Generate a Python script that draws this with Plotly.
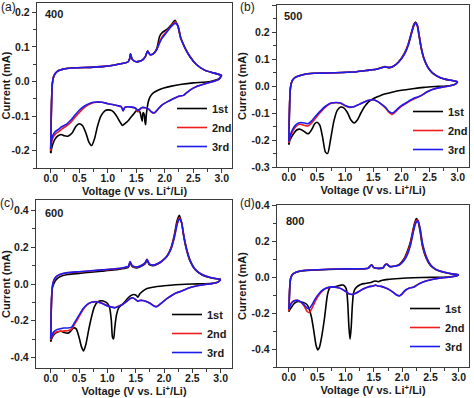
import plotly.graph_objects as go

# ---------------- data ----------------
CYCLES = ["1st", "2nd", "3rd"]
SAMPLES = ["400", "500", "600", "800"]
PANEL_LABELS = ["(a)", "(b)", "(c)", "(d)"]
X_TICKS = [0.0, 0.5, 1.0, 1.5, 2.0, 2.5, 3.0]
X_MINOR = [0.25, 0.75, 1.25, 1.75, 2.25, 2.75]
Y_TICKS_A = [-0.2, -0.1, 0.0, 0.1, 0.2]
Y_MINOR_A = [-0.25, -0.15, -0.05, 0.05, 0.15]
Y_TICKS_B = [-0.3, -0.2, -0.1, 0.0, 0.1, 0.2, 0.3]
Y_MINOR_B = [-0.25, -0.15, -0.05, 0.05, 0.15, 0.25]
Y_TICKS_C = [-0.4, -0.2, 0.0, 0.2, 0.4]
Y_MINOR_C = [-0.3, -0.1, 0.1, 0.3]
Y_TICKS_D = [-0.4, -0.2, 0.0, 0.2, 0.4]
Y_MINOR_D = [-0.5, -0.3, -0.1, 0.1, 0.3]

# ---- (a) 400 ----
A_AN_V = [0.0, 0.005, 0.015, 0.03, 0.06, 0.12, 0.25, 0.45, 0.7, 0.9, 1.1, 1.25, 1.35, 1.385, 1.40, 1.43,
          1.5, 1.6, 1.66, 1.70, 1.74, 1.8, 1.86, 1.91, 1.96, 2.05, 2.12, 2.18, 2.23, 2.28, 2.32, 2.37,
          2.45, 2.55, 2.7, 2.85, 3.0]
A_AN_1 = [-0.207, -0.15, -0.06, -0.005, 0.018, 0.03, 0.037, 0.04, 0.041, 0.043, 0.047, 0.052, 0.056, 0.066,
          0.08, 0.064, 0.057, 0.061, 0.072, 0.088, 0.078, 0.08, 0.095, 0.13, 0.142, 0.152, 0.165, 0.177,
          0.16, 0.125, 0.11, 0.092, 0.07, 0.05, 0.033, 0.025, 0.018]
A_AN_2 = [-0.2, -0.15, -0.06, -0.005, 0.018, 0.03, 0.037, 0.04, 0.041, 0.043, 0.047, 0.052, 0.056, 0.066,
          0.08, 0.064, 0.057, 0.061, 0.072, 0.088, 0.078, 0.08, 0.093, 0.115, 0.13, 0.148, 0.162, 0.172,
          0.162, 0.126, 0.11, 0.092, 0.07, 0.05, 0.033, 0.025, 0.018]
A_AN_3 = [-0.195, -0.15, -0.06, -0.005, 0.018, 0.03, 0.037, 0.04, 0.041, 0.043, 0.047, 0.052, 0.056, 0.066,
          0.08, 0.064, 0.057, 0.061, 0.072, 0.088, 0.078, 0.08, 0.092, 0.112, 0.127, 0.146, 0.16, 0.168,
          0.162, 0.127, 0.11, 0.092, 0.07, 0.05, 0.033, 0.025, 0.018]
A_CA1_V = [3.0, 2.95, 2.8, 2.5, 2.3, 2.1, 2.0, 1.9, 1.8, 1.74, 1.71, 1.69, 1.675, 1.665, 1.655, 1.64, 1.62,
           1.605, 1.59, 1.57, 1.54, 1.5, 1.45, 1.4, 1.35, 1.3, 1.26, 1.22, 1.15, 1.08, 1.0, 0.95, 0.88, 0.82,
           0.77, 0.72, 0.67, 0.62, 0.56, 0.5, 0.44, 0.38, 0.3, 0.24, 0.18, 0.12, 0.07, 0.03, 0.0]
A_CA1_I = [0.018, 0.008, 0.0, -0.004, -0.008, -0.014, -0.018, -0.024, -0.033, -0.045, -0.06, -0.08, -0.1,
           -0.125, -0.118, -0.095, -0.09, -0.115, -0.105, -0.09, -0.082, -0.085, -0.095, -0.105, -0.115,
           -0.122, -0.127, -0.118, -0.098, -0.085, -0.082, -0.085, -0.1, -0.13, -0.165, -0.185, -0.175,
           -0.15, -0.128, -0.122, -0.13, -0.148, -0.158, -0.157, -0.153, -0.158, -0.168, -0.185, -0.207]
A_CA_V = [3.0, 2.95, 2.85, 2.7, 2.55, 2.45, 2.38, 2.33, 2.25, 2.15, 2.05, 1.95, 1.88, 1.82, 1.77, 1.72, 1.66,
          1.6, 1.56, 1.53, 1.49, 1.42, 1.35, 1.3, 1.27, 1.24, 1.18, 1.1, 1.0, 0.9, 0.8, 0.7, 0.6, 0.5, 0.42,
          0.35, 0.28, 0.2, 0.14, 0.08, 0.04, 0.015, 0.0]
A_CA_2 = [0.018, 0.006, 0.0, -0.007, -0.015, -0.024, -0.033, -0.04, -0.043, -0.05, -0.058, -0.068, -0.081,
          -0.091, -0.089, -0.08, -0.076, -0.076, -0.082, -0.088, -0.078, -0.074, -0.073, -0.075, -0.084,
          -0.073, -0.07, -0.067, -0.064, -0.06, -0.06, -0.064, -0.074, -0.09, -0.105, -0.118, -0.128,
          -0.137, -0.145, -0.152, -0.162, -0.177, -0.2]
A_CA_3 = [0.018, 0.006, 0.0, -0.007, -0.015, -0.024, -0.033, -0.04, -0.042, -0.05, -0.058, -0.068, -0.08,
          -0.09, -0.088, -0.08, -0.076, -0.075, -0.08, -0.085, -0.077, -0.074, -0.073, -0.075, -0.085,
          -0.073, -0.07, -0.067, -0.064, -0.06, -0.059, -0.062, -0.07, -0.083, -0.098, -0.112, -0.123,
          -0.13, -0.138, -0.145, -0.155, -0.17, -0.195]

# ---- (b) 500 ----
B_AN_V = [0.0, 0.005, 0.015, 0.03, 0.06, 0.12, 0.25, 0.45, 0.7, 0.95, 1.2, 1.4, 1.55, 1.65, 1.71, 1.77, 1.85,
          1.95, 2.05, 2.12, 2.18, 2.22, 2.25, 2.28, 2.31, 2.35, 2.4, 2.47, 2.55, 2.7, 2.85, 3.0]
B_AN_1 = [-0.215, -0.15, -0.06, -0.005, 0.02, 0.033, 0.042, 0.047, 0.048, 0.05, 0.053, 0.058, 0.062, 0.068,
          0.072, 0.068, 0.072, 0.09, 0.12, 0.155, 0.2, 0.228, 0.237, 0.225, 0.19, 0.14, 0.1, 0.068, 0.048,
          0.03, 0.022, 0.016]
B_AN_2 = [-0.21, -0.15, -0.06, -0.005, 0.02, 0.033, 0.042, 0.047, 0.048, 0.05, 0.053, 0.058, 0.062, 0.068,
          0.072, 0.068, 0.072, 0.089, 0.118, 0.152, 0.197, 0.225, 0.234, 0.226, 0.193, 0.143, 0.102, 0.07,
          0.049, 0.03, 0.022, 0.016]
B_AN_3 = [-0.205, -0.15, -0.06, -0.005, 0.02, 0.033, 0.042, 0.047, 0.048, 0.05, 0.053, 0.058, 0.062, 0.068,
          0.071, 0.068, 0.072, 0.088, 0.116, 0.15, 0.195, 0.223, 0.232, 0.226, 0.194, 0.145, 0.103, 0.07,
          0.049, 0.03, 0.022, 0.016]
B_CA1_V = [3.0, 2.95, 2.8, 2.6, 2.4, 2.2, 2.0, 1.85, 1.7, 1.6, 1.5, 1.42, 1.35, 1.28, 1.22, 1.16, 1.1, 1.04,
           0.97, 0.92, 0.86, 0.8, 0.74, 0.69, 0.65, 0.6, 0.55, 0.5, 0.46, 0.41, 0.36, 0.32, 0.27, 0.2, 0.14,
           0.09, 0.05, 0.02, 0.0]
B_CA1_I = [0.016, 0.006, 0.0, -0.002, -0.005, -0.01, -0.016, -0.022, -0.03, -0.038, -0.047, -0.058, -0.075,
           -0.1, -0.125, -0.137, -0.125, -0.098, -0.08, -0.078, -0.09, -0.13, -0.2, -0.25, -0.245, -0.19,
           -0.145, -0.134, -0.14, -0.16, -0.175, -0.176, -0.168, -0.16, -0.163, -0.175, -0.188, -0.2, -0.218]
B_CA_V = [3.0, 2.95, 2.85, 2.7, 2.55, 2.45, 2.38, 2.3, 2.25, 2.18, 2.1, 2.0, 1.93, 1.87, 1.83, 1.78, 1.72,
          1.65, 1.58, 1.5, 1.42, 1.35, 1.25, 1.15, 1.08, 1.0, 0.92, 0.85, 0.75, 0.65, 0.55, 0.47, 0.4, 0.34,
          0.28, 0.22, 0.17, 0.12, 0.07, 0.03, 0.0]
B_CA_2 = [0.016, 0.006, 0.0, -0.005, -0.013, -0.022, -0.032, -0.041, -0.045, -0.052, -0.062, -0.075,
          -0.088, -0.1, -0.105, -0.098, -0.082, -0.069, -0.058, -0.051, -0.053, -0.058, -0.068, -0.077,
          -0.079, -0.073, -0.064, -0.062, -0.064, -0.078, -0.1, -0.12, -0.138, -0.148, -0.146, -0.142,
          -0.143, -0.152, -0.167, -0.187, -0.21]
B_CA_3 = [0.016, 0.006, 0.0, -0.005, -0.013, -0.022, -0.032, -0.04, -0.043, -0.05, -0.06, -0.073, -0.085,
          -0.097, -0.1, -0.095, -0.08, -0.068, -0.058, -0.051, -0.053, -0.058, -0.068, -0.077, -0.078,
          -0.072, -0.063, -0.061, -0.063, -0.075, -0.095, -0.113, -0.13, -0.14, -0.137, -0.135, -0.137,
          -0.145, -0.16, -0.18, -0.205]

# ---- (c) 600 ----
C_AN_V = [0.0, 0.005, 0.015, 0.03, 0.06, 0.1, 0.18, 0.3, 0.5, 0.7, 0.9, 1.1, 1.3, 1.37, 1.40, 1.44, 1.52,
          1.62, 1.67, 1.70, 1.74, 1.8, 1.88, 1.96, 2.05, 2.12, 2.18, 2.23, 2.27, 2.31, 2.35, 2.4, 2.46, 2.55,
          2.68, 2.82, 3.0]
C_AN_1 = [-0.313, -0.2, -0.08, -0.02, 0.005, 0.025, 0.042, 0.052, 0.058, 0.064, 0.07, 0.076, 0.085, 0.09,
          0.115, 0.095, 0.088, 0.1, 0.112, 0.13, 0.105, 0.1, 0.108, 0.124, 0.152, 0.195, 0.265, 0.345, 0.375,
          0.335, 0.255, 0.183, 0.125, 0.078, 0.048, 0.034, 0.025]
C_AN_2 = [-0.305, -0.2, -0.08, -0.01, 0.022, 0.04, 0.053, 0.061, 0.066, 0.071, 0.076, 0.081, 0.089, 0.095,
          0.12, 0.098, 0.092, 0.104, 0.116, 0.134, 0.109, 0.102, 0.109, 0.124, 0.15, 0.19, 0.255, 0.33,
          0.362, 0.335, 0.26, 0.188, 0.128, 0.08, 0.05, 0.035, 0.025]
C_AN_3 = [-0.3, -0.2, -0.08, -0.01, 0.025, 0.042, 0.055, 0.062, 0.067, 0.072, 0.077, 0.082, 0.09, 0.096,
          0.122, 0.1, 0.093, 0.105, 0.118, 0.135, 0.11, 0.103, 0.11, 0.125, 0.15, 0.188, 0.25, 0.322, 0.355,
          0.335, 0.262, 0.19, 0.13, 0.08, 0.05, 0.035, 0.025]
C_CA1_V = [3.0, 2.95, 2.8, 2.5, 2.2, 2.0, 1.8, 1.7, 1.62, 1.57, 1.54, 1.51, 1.47, 1.42, 1.36, 1.3, 1.25, 1.2,
           1.16, 1.13, 1.11, 1.09, 1.07, 1.04, 1.0, 0.95, 0.88, 0.82, 0.77, 0.72, 0.67, 0.62, 0.58, 0.54, 0.5,
           0.45, 0.4, 0.35, 0.3, 0.24, 0.18, 0.12, 0.07, 0.03, 0.0]
C_CA1_I = [0.025, 0.01, 0.003, 0.0, -0.004, -0.01, -0.018, -0.025, -0.04, -0.055, -0.072, -0.062, -0.057,
           -0.062, -0.078, -0.1, -0.115, -0.13, -0.17, -0.24, -0.3, -0.29, -0.2, -0.13, -0.105, -0.095,
           -0.092, -0.1, -0.125, -0.18, -0.25, -0.33, -0.365, -0.34, -0.29, -0.245, -0.24, -0.258, -0.268,
           -0.265, -0.258, -0.262, -0.272, -0.288, -0.313]
C_CA_V = [3.0, 2.95, 2.85, 2.7, 2.55, 2.45, 2.35, 2.28, 2.22, 2.15, 2.05, 1.97, 1.9, 1.86, 1.82, 1.75, 1.68,
          1.62, 1.57, 1.54, 1.5, 1.45, 1.4, 1.33, 1.27, 1.2, 1.13, 1.06, 1.0, 0.9, 0.8, 0.72, 0.64, 0.57, 0.5,
          0.43, 0.37, 0.3, 0.23, 0.16, 0.1, 0.05, 0.02, 0.0]
C_CA_2 = [0.025, 0.01, 0.002, -0.004, -0.012, -0.02, -0.033, -0.042, -0.048, -0.06, -0.08, -0.1, -0.117,
          -0.123, -0.118, -0.104, -0.094, -0.09, -0.09, -0.094, -0.085, -0.076, -0.08, -0.098, -0.11,
          -0.12, -0.128, -0.124, -0.118, -0.104, -0.096, -0.1, -0.114, -0.14, -0.178, -0.215, -0.245,
          -0.255, -0.256, -0.258, -0.262, -0.272, -0.288, -0.305]
C_CA_3 = [0.025, 0.01, 0.002, -0.004, -0.012, -0.02, -0.033, -0.042, -0.048, -0.06, -0.08, -0.1, -0.118,
          -0.125, -0.12, -0.105, -0.095, -0.09, -0.09, -0.095, -0.085, -0.075, -0.08, -0.098, -0.112,
          -0.122, -0.13, -0.125, -0.12, -0.105, -0.097, -0.1, -0.112, -0.135, -0.17, -0.205, -0.235,
          -0.24, -0.24, -0.245, -0.25, -0.262, -0.28, -0.3]

# ---- (d) 800 ----
D_AN_V = [0.0, 0.005, 0.015, 0.03, 0.06, 0.1, 0.2, 0.4, 0.7, 1.0, 1.3, 1.4, 1.43, 1.46, 1.5, 1.58, 1.66, 1.7,
          1.73, 1.78, 1.86, 1.95, 2.03, 2.1, 2.15, 2.19, 2.22, 2.25, 2.28, 2.32, 2.36, 2.42, 2.5, 2.6, 2.75,
          2.9, 3.0]
D_AN_1 = [-0.192, -0.14, -0.06, -0.01, 0.012, 0.022, 0.032, 0.038, 0.042, 0.044, 0.045, 0.048, 0.058,
          0.068, 0.052, 0.047, 0.05, 0.068, 0.072, 0.058, 0.06, 0.07, 0.1, 0.15, 0.2, 0.26, 0.3, 0.325,
          0.312, 0.245, 0.168, 0.108, 0.064, 0.04, 0.025, 0.016, 0.012]
D_AN_2 = [-0.19, -0.14, -0.06, -0.01, 0.013, 0.023, 0.033, 0.039, 0.043, 0.045, 0.046, 0.049, 0.059,
          0.068, 0.052, 0.048, 0.051, 0.068, 0.072, 0.058, 0.06, 0.068, 0.095, 0.14, 0.19, 0.25, 0.29, 0.315,
          0.315, 0.258, 0.178, 0.114, 0.067, 0.041, 0.026, 0.016, 0.012]
D_AN_3 = [-0.178, -0.14, -0.06, -0.01, 0.013, 0.023, 0.033, 0.039, 0.043, 0.045, 0.046, 0.049, 0.059,
          0.068, 0.052, 0.048, 0.051, 0.067, 0.071, 0.058, 0.06, 0.067, 0.09, 0.13, 0.18, 0.24, 0.28, 0.305,
          0.31, 0.264, 0.185, 0.118, 0.068, 0.041, 0.026, 0.016, 0.012]
D_CA1_V = [3.0, 2.95, 2.8, 2.5, 2.2, 1.95, 1.75, 1.65, 1.58, 1.52, 1.45, 1.35, 1.28, 1.22, 1.17, 1.14, 1.12,
           1.1, 1.08, 1.06, 1.04, 1.02, 1.0, 0.96, 0.92, 0.86, 0.8, 0.72, 0.68, 0.63, 0.58, 0.54, 0.51, 0.48,
           0.44, 0.4, 0.35, 0.31, 0.24, 0.16, 0.1, 0.05, 0.02, 0.0]
D_CA1_I = [0.012, 0.005, 0.0, -0.002, -0.004, -0.008, -0.013, -0.018, -0.026, -0.022, -0.03, -0.036,
           -0.04, -0.05, -0.065, -0.09, -0.16, -0.28, -0.345, -0.28, -0.15, -0.075, -0.057, -0.045, -0.045,
           -0.05, -0.055, -0.06, -0.1, -0.225, -0.33, -0.39, -0.405, -0.38, -0.3, -0.225, -0.17, -0.15,
           -0.14, -0.136, -0.145, -0.165, -0.18, -0.192]
D_CA_V = [3.0, 2.95, 2.85, 2.7, 2.55, 2.42, 2.32, 2.25, 2.2, 2.12, 2.05, 1.99, 1.95, 1.9, 1.84, 1.77, 1.7,
          1.63, 1.57, 1.53, 1.48, 1.4, 1.32, 1.24, 1.17, 1.12, 1.06, 1.0, 0.93, 0.85, 0.75, 0.65, 0.57, 0.5,
          0.45, 0.4, 0.36, 0.32, 0.27, 0.21, 0.15, 0.1, 0.06, 0.02, 0.0]
D_CA_2 = [0.012, 0.005, 0.0, -0.005, -0.012, -0.022, -0.034, -0.046, -0.055, -0.063, -0.077, -0.098,
          -0.104, -0.098, -0.084, -0.07, -0.06, -0.052, -0.05, -0.045, -0.05, -0.055, -0.065, -0.08, -0.092,
          -0.097, -0.093, -0.08, -0.066, -0.058, -0.056, -0.064, -0.085, -0.115, -0.145, -0.178, -0.198,
          -0.19, -0.162, -0.14, -0.13, -0.13, -0.138, -0.158, -0.18]
D_CA_3 = [0.012, 0.005, 0.0, -0.005, -0.012, -0.022, -0.035, -0.048, -0.057, -0.063, -0.075, -0.095,
          -0.105, -0.1, -0.085, -0.07, -0.06, -0.052, -0.05, -0.045, -0.05, -0.055, -0.065, -0.08, -0.092,
          -0.097, -0.093, -0.08, -0.066, -0.058, -0.055, -0.062, -0.078, -0.105, -0.13, -0.158, -0.175,
          -0.172, -0.155, -0.138, -0.13, -0.132, -0.14, -0.16, -0.178]

# ---------------- styling ----------------
FONT = "Arial, 'Liberation Sans', sans-serif"
FRAME = "#3a3a3a"
COLORS = ["#000000", "#ee1c1c", "#1c1cee"]
W, H = 474, 398


def px_x(p):
    return p / W


def px_y(p):
    return 1 - p / H


panels = [
    dict(xa="x", ya="y", leg="legend",
         cath=[(A_CA1_V, A_CA1_I), (A_CA_V, A_CA_2), (A_CA_V, A_CA_3)],
         an=[(A_AN_V, A_AN_1), (A_AN_V, A_AN_2), (A_AN_V, A_AN_3)],
         xdom=(37, 232), ydom=(168, 3), xr=[-0.24, 3.18], yr=[-0.25, 0.227],
         yt=Y_TICKS_A, ym=Y_MINOR_A, leg_xy=(172, 94), ann=(43, 14), lab=(-1, 7)),
    dict(xa="x2", ya="y2", leg="legend2",
         cath=[(B_CA1_V, B_CA1_I), (B_CA_V, B_CA_2), (B_CA_V, B_CA_3)],
         an=[(B_AN_V, B_AN_1), (B_AN_V, B_AN_2), (B_AN_V, B_AN_3)],
         xdom=(277, 469), ydom=(167, 5), xr=[-0.21, 3.2], yr=[-0.3, 0.3],
         yt=Y_TICKS_B, ym=Y_MINOR_B, leg_xy=(408, 97), ann=(282, 16), lab=(238, 7)),
    dict(xa="x3", ya="y3", leg="legend3",
         cath=[(C_CA1_V, C_CA1_I), (C_CA_V, C_CA_2), (C_CA_V, C_CA_3)],
         an=[(C_AN_V, C_AN_1), (C_AN_V, C_AN_2), (C_AN_V, C_AN_3)],
         xdom=(36, 232), ydom=(368, 200), xr=[-0.26, 3.2], yr=[-0.458, 0.458],
         yt=Y_TICKS_C, ym=Y_MINOR_C, leg_xy=(167, 300), ann=(43, 213), lab=(-2, 203)),
    dict(xa="x4", ya="y4", leg="legend4",
         cath=[(D_CA1_V, D_CA1_I), (D_CA_V, D_CA_2), (D_CA_V, D_CA_3)],
         an=[(D_AN_V, D_AN_1), (D_AN_V, D_AN_2), (D_AN_V, D_AN_3)],
         xdom=(277, 469), ydom=(367, 205), xr=[-0.21, 3.18], yr=[-0.5, 0.4],
         yt=Y_TICKS_D, ym=Y_MINOR_D, leg_xy=(405, 294), ann=(284, 221), lab=(238, 203)),
]

fig = go.Figure()
layout = dict(width=W, height=H, margin=dict(l=0, r=0, t=0, b=0, autoexpand=False),
              paper_bgcolor="white", plot_bgcolor="white",
              font=dict(family=FONT, color="#1a1a1a"), annotations=[])

tick_font = dict(family=FONT, size=10.5, color="#1a1a1a", weight="bold")
title_font = dict(family=FONT, size=11, color="#1a1a1a", weight="bold")

for pi, p in enumerate(panels):
    for k, name in enumerate(CYCLES):
        line = dict(color=COLORS[k], width=1.6, shape="spline", smoothing=0.6)
        cv, ci = p["cath"][k]
        av, ai = p["an"][k]
        grp = f"{SAMPLES[pi]}-{name}"
        fig.add_trace(go.Scatter(x=cv, y=ci, mode="lines", line=line, xaxis=p["xa"], yaxis=p["ya"],
                                 legend=p["leg"], legendgroup=grp, showlegend=False, name=name,
                                 hoverinfo="skip"))
        fig.add_trace(go.Scatter(x=av, y=ai, mode="lines", line=line, xaxis=p["xa"], yaxis=p["ya"],
                                 legend=p["leg"], legendgroup=grp, showlegend=True, name=name,
                                 hoverinfo="skip"))

    suffix = "" if pi == 0 else str(pi + 1)
    common = dict(showline=True, mirror=True, linecolor=FRAME, linewidth=1.4, ticks="outside",
                  ticklen=4, tickwidth=1.2, tickcolor=FRAME, showgrid=False, zeroline=False,
                  tickfont=tick_font, tickmode="array", automargin=False)
    layout["xaxis" + suffix] = dict(
        common, domain=[px_x(p["xdom"][0]), px_x(p["xdom"][1])], range=p["xr"], anchor=p["ya"],
        tickvals=X_TICKS, ticktext=[f"{v:.1f}" for v in X_TICKS], ticklabelstandoff=-4,
        minor=dict(tickmode="array", tickvals=X_MINOR, ticks="outside", ticklen=2.5, tickwidth=1,
                   tickcolor=FRAME),
        title=dict(text="Voltage (V vs. Li<sup>+</sup>/Li)", font=title_font, standoff=2))
    layout["yaxis" + suffix] = dict(
        common, domain=[px_y(p["ydom"][0]), px_y(p["ydom"][1])], range=p["yr"], anchor=p["xa"],
        tickvals=p["yt"], ticktext=[f"{v:.1f}" for v in p["yt"]],
        minor=dict(tickmode="array", tickvals=p["ym"], ticks="outside", ticklen=2.5, tickwidth=1,
                   tickcolor=FRAME),
        title=dict(text="Current (mA)", font=title_font, standoff=2))
    layout[p["leg"]] = dict(x=px_x(p["leg_xy"][0]), y=px_y(p["leg_xy"][1]), xanchor="left", yanchor="top",
                            bgcolor="rgba(0,0,0,0)", borderwidth=0, tracegroupgap=0,
                            traceorder="normal", itemwidth=30,
                            font=dict(family=FONT, size=11, color="#1a1a1a", weight="bold"))
    layout["annotations"].append(dict(text=SAMPLES[pi], xref="paper", yref="paper",
                                      x=px_x(p["ann"][0]), y=px_y(p["ann"][1]), xanchor="left",
                                      yanchor="middle", showarrow=False,
                                      font=dict(family=FONT, size=11, color="#1a1a1a", weight="bold")))
    layout["annotations"].append(dict(text=PANEL_LABELS[pi], xref="paper", yref="paper",
                                      x=px_x(p["lab"][0]), y=px_y(p["lab"][1]), xanchor="left",
                                      yanchor="middle", showarrow=False,
                                      font=dict(family=FONT, size=12, color="#1a1a1a")))

fig.update_layout(**layout)
# remove the browser's default 8px page margin so the figure starts at the window corner
fig.write_html("out.html", config={"displayModeBar": False},
               post_script="document.body.style.margin='0';document.body.style.padding='0';"
                           "document.body.style.overflow='hidden';")
